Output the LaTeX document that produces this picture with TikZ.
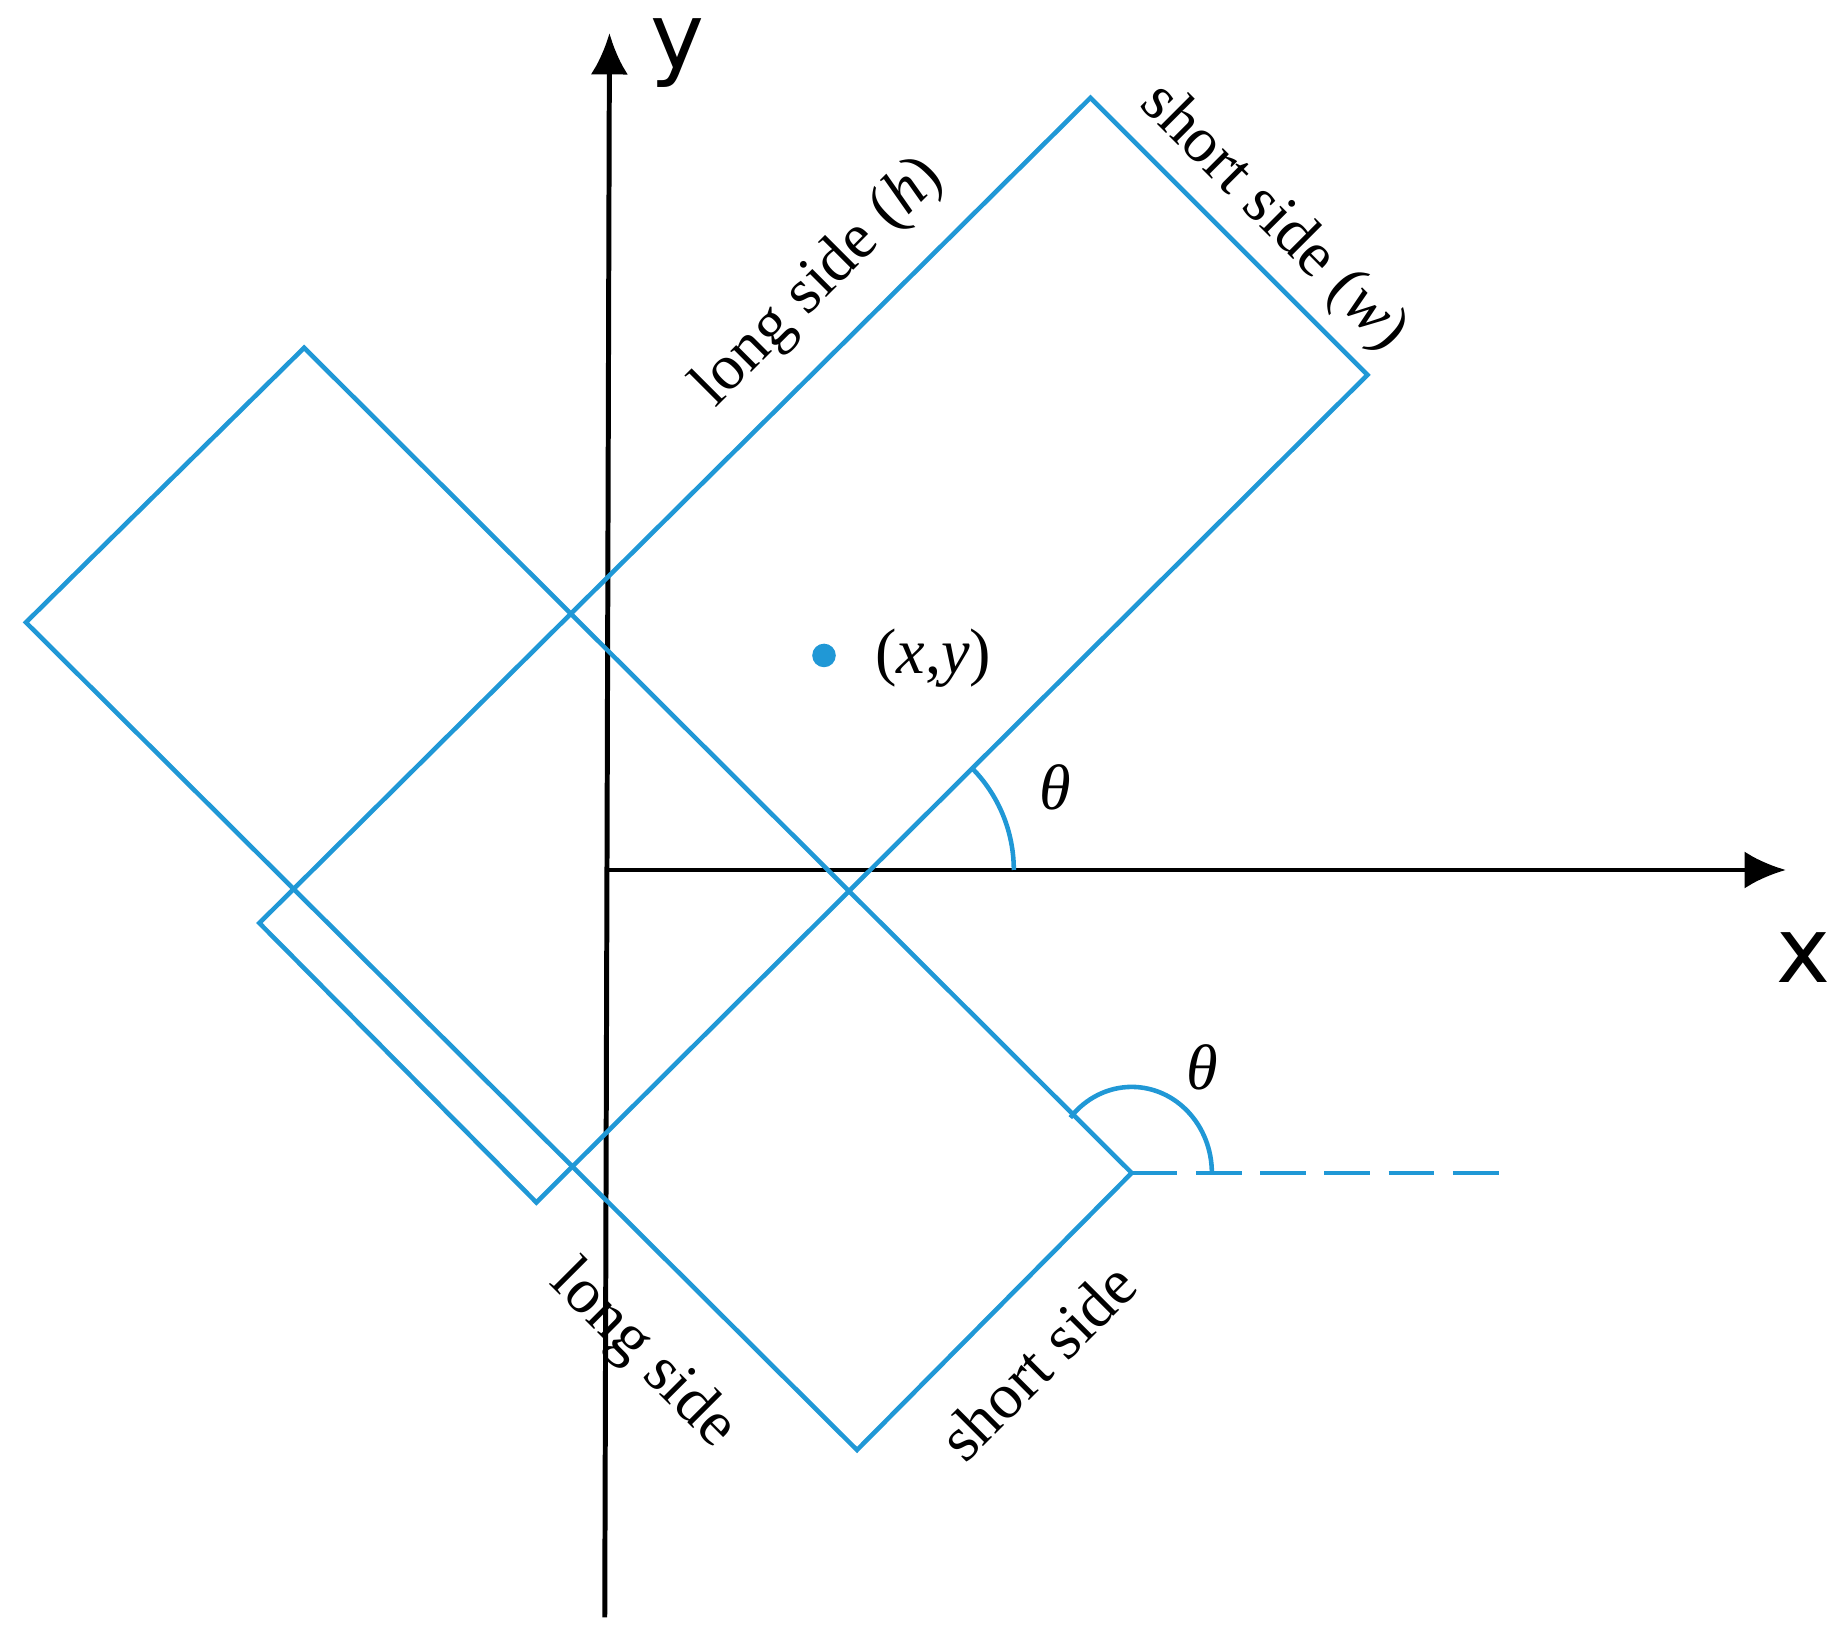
\documentclass[tikz,border=0pt]{standalone}
\usepackage{fontspec}
\setmainfont{Liberation Serif}
\setsansfont{DejaVu Sans}
\usetikzlibrary{arrows.meta}
\definecolor{bl}{RGB}{32,152,214}
\begin{document}
\begin{tikzpicture}[x=0.01cm,y=-0.01cm,
 rect/.style={draw=bl,line width=1.1pt,line join=miter},
 ax/.style={draw=black,line width=1.2pt,-{Latex[length=10pt,width=9pt]}},
 lbl/.style={font=\fontsize{15.5}{17}\selectfont},
 axl/.style={font=\sffamily\fontsize{22}{24}\selectfont}]
\useasboundingbox (0,0) rectangle (1560,1391);
\coordinate (yb) at (513,1372); \coordinate (yt) at (517,28);
\coordinate (xl) at (513,738); \coordinate (xr) at (1515,738);
\draw[ax] (yb) -- (yt);
\draw[ax] (xl) -- (xr);
\node[axl] (ylab) at (575,45) {y};
\node[axl] (xlab) at (1530,812) {x};
\draw[rect] (925,83) -- (1160,318) -- (455,1020) -- (220,783) -- cycle;
\draw[rect] (258,295) -- (960,995) -- (727,1230) -- (22,528) -- cycle;
\fill[bl] (699,556) circle (10);
\node[lbl,anchor=west] (xy) at (730,558) {(\textit{x},\textit{y})};
\coordinate (c1) at (737,738);
\draw[bl,line width=1.1pt] (860,738) arc[start angle=0,end angle=-45,radius=123];
\node[lbl] (t1) at (895,668) {\textit{θ}};
\coordinate (c2) at (960,995);
\draw[bl,line width=1.1pt] (1028,995) arc[start angle=0,end angle=-140,x radius=68,y radius=73];
\draw[bl,line width=1.1pt,dash pattern=on 11pt off 4.5pt] (c2) -- (1282,995);
\node[lbl] (t2) at (1020,905) {\textit{θ}};
\node[lbl,rotate=45] (lh) at (695,240) {long side (\textit{h})};
\node[lbl,rotate=-45] (sw) at (1080,185) {short side (\textit{w})};
\node[lbl,rotate=-45] (ls) at (545,1150) {long side};
\node[lbl,rotate=45] (ss) at (880,1155) {short side};
\end{tikzpicture}
\end{document}
